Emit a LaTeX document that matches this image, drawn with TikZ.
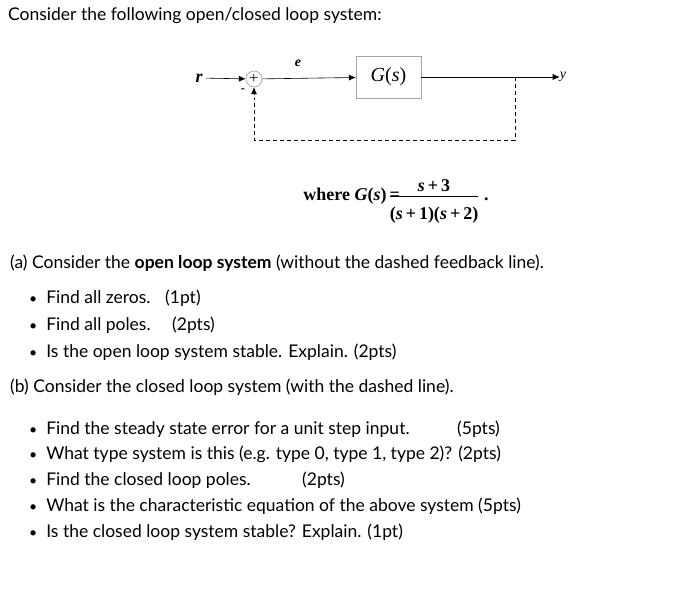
\documentclass[tikz,border=0pt]{standalone}
\usepackage{fontspec}
\setmainfont{Lato}
\newfontfamily\tms{Liberation Serif}
\usetikzlibrary{arrows.meta}
\begin{document}
\begin{tikzpicture}[x=1pt,y=-1pt,
  txt/.style={anchor=base west,inner sep=0pt,font=\fontsize{17.5}{20}\selectfont},
  bul/.style={txt},
  fml/.style={inner sep=0pt,font=\tms\bfseries\fontsize{18}{20}\selectfont},
  sig/.style={-{Latex[length=7pt,width=6pt]},line width=0.6pt},
  fb/.style={dashed,dash pattern=on 4pt off 3pt,line width=0.6pt}]
\useasboundingbox[fill=white] (0,0) rectangle (700,589);
\node[txt] (t0) at (8,20) {Consider the following open/closed loop system:};
% block diagram
\node[circle,draw=gray,minimum size=16pt,inner sep=0pt,font=\tms\fontsize{16}{16}\selectfont] (sum) at (254,79) {+};
\node[draw=gray!70,minimum width=65pt,minimum height=42pt,font=\tms\fontsize{20}{20}\selectfont] (G) at (388.5,77) {\textit{G}(\textit{s})};
\node[font=\tms\bfseries\itshape\fontsize{18}{18}\selectfont] (r) at (199,78) {r};
\node[font=\tms\itshape\fontsize{14}{14}\selectfont,inner sep=0pt] (y) at (563,77) {y};
\node[font=\tms\itshape\bfseries\fontsize{14}{14}\selectfont] (e) at (298,63) {e};
\node[font=\fontsize{14}{14}\selectfont] (m) at (243,91) {-};
\coordinate (br) at (515,77);
\coordinate (c1) at (515,140);
\coordinate (c2) at (254,140);
\draw[sig] (r) -- (sum);
\draw[sig] (sum) -- (G);
\draw[sig] (G) -- (y);
\draw[fb] (br) -- (c1) -- (c2) -- (254,98);
\draw[sig] (254,94) -- (sum);
% formula
\node[fml,anchor=base east] (w) at (400,200) {where \textit{G}(\textit{s})\,=};
\node[fml,anchor=base] (num) at (434,191) {\textit{s}\,+\,3};
\node[fml,anchor=base] (den) at (434,219) {(\textit{s}\,+\,1)(\textit{s}\,+\,2)};
\draw[line width=0.7pt] (den.west |- 0,196) -- (den.east |- 0,196);
\node[fml,anchor=base west] (dot) at (484,200) {.};
% text
\node[txt] (a) at (10,268) {(a) Consider the \textbf{open loop system} (without the dashed feedback line).};
\node[bul] (a1) at (29,303) {\scalebox{0.8}{•}\hspace{9pt}Find all zeros.};
\node[txt] (a1p) at (165,303) {(1pt)};
\node[bul] (a2) at (29,330) {\scalebox{0.8}{•}\hspace{9pt}Find all poles.};
\node[txt] (a2p) at (172,330) {(2pts)};
\node[bul] (a3) at (29,357) {\scalebox{0.8}{•}\hspace{9pt}Is the open loop system stable. Explain. (2pts)};
\node[txt] (b) at (10,392) {(b) Consider the closed loop system (with the dashed line).};
\node[bul] (b1) at (29,434) {\scalebox{0.8}{•}\hspace{9pt}Find the steady state error for a unit step input.};
\node[txt] (b1p) at (457,434) {(5pts)};
\node[bul] (b2) at (29,459) {\scalebox{0.8}{•}\hspace{9pt}What type system is this (e.g. type 0, type 1, type 2)?\hspace{6pt}(2pts)};
\node[bul] (b3) at (29,485) {\scalebox{0.8}{•}\hspace{9pt}Find the closed loop poles.};
\node[txt] (b3p) at (302,485) {(2pts)};
\node[bul] (b4) at (29,511) {\scalebox{0.8}{•}\hspace{9pt}What is the characteristic equation of the above system (5pts)};
\node[bul] (b5) at (29,537) {\scalebox{0.8}{•}\hspace{9pt}Is the closed loop system stable? Explain. (1pt)};
\end{tikzpicture}
\end{document}
